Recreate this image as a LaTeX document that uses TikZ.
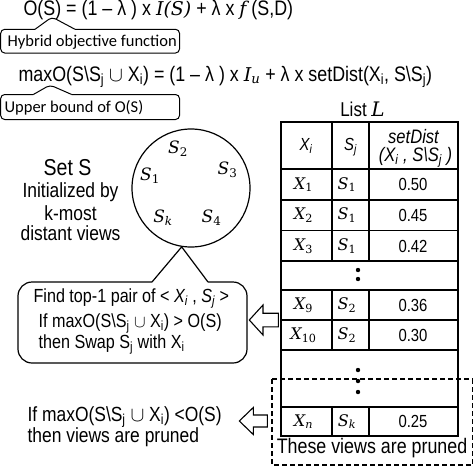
\documentclass[tikz,border=0pt]{standalone}
\usepackage{fontspec}
\setmainfont{Liberation Sans}[FakeStretch=0.85]
\newfontfamily\calloutfont{Carlito}
\newfontfamily\varfont{DejaVu Serif}
\newcommand{\vname}[2]{{\varfont\itshape #1}\textsubscript{\varfont #2}}
\usepackage{amsmath,amssymb}
\usepackage{tikz}

\begin{document}
\begin{tikzpicture}
[ x=1pt, y=-1pt, line width=1.2pt
, txt/.style={inner sep=0pt, anchor=base west}
, ctxt/.style={inner sep=0pt, anchor=base}
, formula/.style={txt, font=\fontsize{21}{25}\selectfont}
, callouttext/.style={txt, font=\calloutfont\fontsize{16.5}{20}\selectfont}
, bubbletext/.style={txt, font=\fontsize{19}{23}\selectfont}
, ruletext/.style={txt, font=\fontsize{20.5}{24}\selectfont}
, member/.style={inner sep=0pt, font=\fontsize{17}{21}\selectfont}
, cell/.style={inner sep=0pt, font=\fontsize{17.5}{21}\selectfont}
, varcell/.style={inner sep=0pt, font=\fontsize{16}{20}\selectfont}
, header/.style={ctxt, font=\fontsize{17.5}{21}\selectfont\itshape}
, callout/.style={line width=1pt, rounded corners=4pt}
, hollowarrow/.style={line width=1.1pt, fill=white}
, prunebox/.style={line width=1.8pt, dash pattern=on 5pt off 3pt}
]
\useasboundingbox (0,0) rectangle (474,467);

% Formulas and their labels
\node (objfun) [formula] at (23,15.5)
  {O(S) = (1 \textendash{} λ ) x {\varfont\itshape\fontsize{19}{23}\selectfont I(S)} + λ x {\varfont\itshape\fontsize{19}{23}\selectfont f} (S,D)};
\node (upbound) [formula] at (18,81)
  {maxO(S\textbackslash S\textsubscript{j} $\cup$ X\textsubscript{i}) = (1 \textendash{} λ ) x {\fontsize{19}{23}\selectfont\vname{I}{\itshape u}} + λ x setDist(X\textsubscript{i}, S\textbackslash S\textsubscript{j})};

\node (hybrid) [callouttext] at (7,46.5) {Hybrid objective function};
\coordinate (hybridtip) at (52,17);
\draw [callout] (35,29.3) -- (0.7,29.3) -- (0.7,53) -- (179.5,53) -- (179.5,29.3) -- (75,29.3);
\draw [callout] (35,29.3) -- (hybridtip) -- (75,29.3);

\node (upper) [callouttext] at (4,112.5) {Upper bound of O(S)};
\coordinate (uppertip) at (50,85);
\draw [callout] (33.3,94.5) -- (0.7,94.5) -- (0.7,119.5) -- (179.5,119.5) -- (179.5,94.5) -- (71.7,94.5);
\draw [callout] (33.3,94.5) -- (uppertip) -- (71.7,94.5);

% Set S
\node (setS) [circle, draw, minimum size=118pt, inner sep=0pt] at (191,188) {};
\node (s2) [member] at (178,149) {\vname{S}{2}};
\node (s3) [member] at (227.5,170) {\vname{S}{3}};
\node (s1) [member] at (150,176) {\vname{S}{1}};
\node (sk) [member] at (163,217.5) {\vname{S}{\itshape k}};
\node (s4) [member] at (211.5,218) {\vname{S}{4}};

\node (settitle) [ctxt, font=\fontsize{23}{27}\selectfont] at (67.5,175) {Set S};
\node (init1) [ctxt, font=\fontsize{20.5}{24}\selectfont] at (70.5,197.5) {Initialized by};
\node (init2) [ctxt, font=\fontsize{20.5}{24}\selectfont] at (70.5,220) {k-most};
\node (init3) [ctxt, font=\fontsize{20.5}{24}\selectfont] at (70.5,240.5) {distant views};

% Swap bubble
\draw [rounded corners=14pt] (152,282) -- (18,282) -- (18,363) -- (247,363) -- (247,282) -- (208,282);
\draw (152,282) -- (setS.-99) -- (208,282);
\node (find) [bubbletext] at (33,302)
  {Find top-1 pair of < \textit{X\textsubscript{i}} , \textit{S\textsubscript{j}} >};
\node (ifswap) [bubbletext] at (38,327)
  {If maxO(S\textbackslash S\textsubscript{j} $\cup$ X\textsubscript{i}) > O(S)};
\node (swap) [bubbletext] at (38,348) {then Swap S\textsubscript{j} with X\textsubscript{i}};

% Pruning rule
\node (ifprune) [ruletext] at (27,421)
  {If maxO(S\textbackslash S\textsubscript{j} $\cup$ X\textsubscript{i}) <O(S)};
\node (prune) [ruletext] at (27,442) {then views are pruned};

% List L
\node (listL) [ctxt, font=\fontsize{20}{24}\selectfont] at (362.5,116.7) {List {\varfont\itshape L}};
\draw (281,122) rectangle (458,436);
\foreach \y in {169,200,230.5,261,290,320,350,407}
  \draw (281,\y) -- (458,\y);
\foreach \x in {332,369}
  \draw (\x,122) -- (\x,261) (\x,290) -- (\x,350) (\x,407) -- (\x,436);

\node (hxi) [header] at (306,150.5) {X\textsubscript{i}};
\node (hsj) [header] at (350.5,150.5) {S\textsubscript{j}};
\node (hdist) [header, font=\fontsize{19.5}{23}\selectfont\itshape] at (413.5,143.5) {setDist};
\node (hpair) [header, font=\fontsize{19.5}{23}\selectfont\itshape] at (415.5,161.5) {(X\textsubscript{i} , S\textbackslash S\textsubscript{j} )};

\foreach \xi/\xs/\sj/\dist/\y [count=\r] in
  {1/S_1/1/0.50/184.5, 2/S_1/1/0.45/215, 3/S_1/1/0.42/246,
   9/S_2/2/0.36/305, 10/S_2/2/0.30/335, {\itshape n}/S_k/{\itshape k}/0.25/421.5}
{
  \node (xi\r) [varcell] at (303.5,\y) {\vname{X}{\xi}};
  \node (sj\r) [varcell] at (347,\y) {\vname{S}{\sj}};
  \node (dist\r) [cell] at (413,\y) {\dist};
}

% dots
\foreach \y in {270,279}
  \fill (358,\y) circle (2.2pt);
\foreach \y in {370,381,392}
  \fill (358,\y) circle (2.2pt);

% pruned views
\draw [prunebox] (272,379) rectangle (472.5,465);
\node (pruned) [ctxt, font=\fontsize{21}{25}\selectfont] at (372,453.5) {These views are pruned};

% hollow arrows
\coordinate (swaptip) at (249.3,320);
\draw [hollowarrow] (swaptip) -- ++(13.7,-15) -- ++(0,8.2) -- ++(15.3,0) -- ++(0,13.6)
  -- ++(-15.3,0) -- ++(0,8.2) -- cycle;
\coordinate (prunetip) at (239.3,421);
\draw [hollowarrow] (prunetip) -- ++(14,-13.5) -- ++(0,7.5) -- ++(14,0) -- ++(0,12)
  -- ++(-14,0) -- ++(0,7.5) -- cycle;
\end{tikzpicture}
\end{document}
